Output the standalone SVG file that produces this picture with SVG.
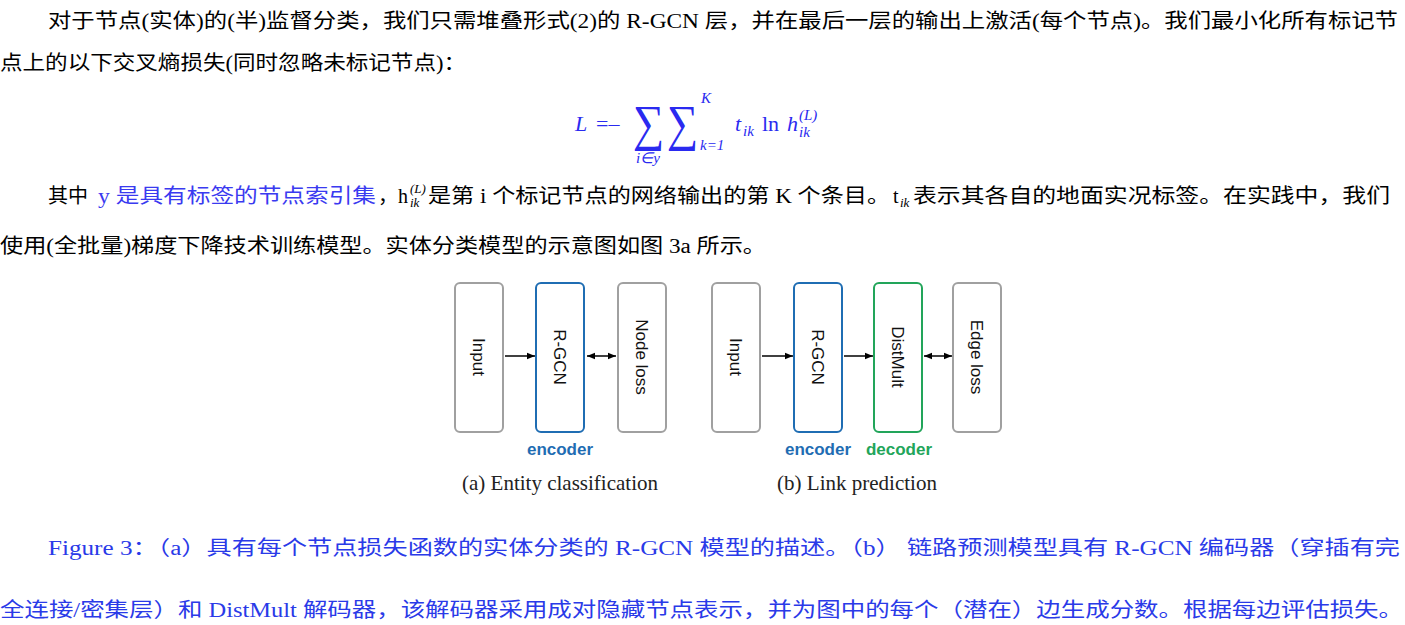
<svg xmlns="http://www.w3.org/2000/svg" width="1405" height="625" viewBox="0 0 1405 625">
<defs>
<marker id="ah" viewBox="0 0 10 10" refX="10" refY="5" markerWidth="8" markerHeight="8" orient="auto-start-reverse" markerUnits="userSpaceOnUse"><path d="M0,1 L10,5 L0,9 z" fill="#000"/></marker>
</defs>
<style>
.t{font-family:"Liberation Serif","Noto Sans CJK SC",serif;font-size:20px;fill:#000}
.b{fill:#3a3af0}
.m{font-family:"Liberation Serif",serif;font-style:italic;fill:#2a2af0}
.box{fill:#fff;stroke-width:2}
.g{stroke:#a0a0a0}.bl{stroke:#1f6db3}.gr{stroke:#22a55a}
.lbl{font-family:"Liberation Sans",Arial,sans-serif;font-size:17px;fill:#111}
.enc{font-family:"Liberation Sans",Arial,sans-serif;font-size:17px;font-weight:bold}
.cap{font-family:"Liberation Serif",serif;font-size:21px;fill:#222}
.c{fill:#2a3ae8}
</style>
<rect width="1405" height="625" fill="#fff"/>
<text class="t" x="48" y="28" textLength="1350" lengthAdjust="spacingAndGlyphs">对于节点(实体)的(半)监督分类，我们只需堆叠形式(2)的 R-GCN 层，并在最后一层的输出上激活(每个节点)。我们最小化所有标记节</text>
<text class="t" x="0" y="70" textLength="466" lengthAdjust="spacingAndGlyphs">点上的以下交叉熵损失(同时忽略未标记节点)：</text>
<g class="m">
<text x="575" y="131" font-size="22">L</text>
<text x="596" y="131" font-size="22" font-style="normal">=–</text>
<text x="633" y="140" font-size="44" font-style="normal" transform="translate(633,140) scale(1,1.15) translate(-633,-140)">∑</text>
<text x="636" y="163" font-size="15">i∈y</text>
<text x="667" y="140" font-size="44" font-style="normal" transform="translate(667,140) scale(1,1.15) translate(-667,-140)">∑</text>
<text x="701" y="103" font-size="15">K</text>
<text x="700" y="150" font-size="15">k=1</text>
<text x="735" y="131" font-size="22">t</text>
<text x="743" y="136" font-size="15">ik</text>
<text x="762" y="131" font-size="22" font-style="normal">ln</text>
<text x="787" y="131" font-size="22">h</text>
<text x="799" y="120" font-size="15">(L)</text>
<text x="799" y="137" font-size="15">ik</text>
</g>
<text class="t" x="48" y="203">其中 </text>
<text class="t b" x="98" y="203" textLength="278" lengthAdjust="spacingAndGlyphs">y 是具有标签的节点索引集</text>
<text class="t" x="378" y="203">，h</text>
<text x="410" y="193" font-family="Liberation Serif" font-style="italic" font-size="13">(L)</text>
<text x="410" y="207" font-family="Liberation Serif" font-style="italic" font-size="13">ik</text>
<text class="t" x="428" y="203" textLength="462" lengthAdjust="spacingAndGlyphs">是第 i 个标记节点的网络输出的第 K 个条目。</text>
<text class="t" x="893" y="203">t</text>
<text x="900" y="207" font-family="Liberation Serif" font-style="italic" font-size="13">ik</text>
<text class="t" x="913" y="203" textLength="477" lengthAdjust="spacingAndGlyphs">表示其各自的地面实况标签。在实践中，我们</text>
<text class="t" x="0" y="253" textLength="766" lengthAdjust="spacingAndGlyphs">使用(全批量)梯度下降技术训练模型。实体分类模型的示意图如图 3a 所示。</text>

<g id="a-input"><rect class="box g" x="455" y="283" width="48" height="149" rx="5"/><text class="lbl" transform="translate(473,357) rotate(90)" text-anchor="middle">Input</text></g>
<g id="a-rgcn"><rect class="box bl" x="536" y="283" width="48" height="149" rx="5"/><text class="lbl" transform="translate(554,357) rotate(90)" text-anchor="middle">R-GCN</text></g>
<g id="a-loss"><rect class="box g" x="618" y="283" width="48" height="149" rx="5"/><text class="lbl" transform="translate(636,357) rotate(90)" text-anchor="middle">Node loss</text></g>
<g id="b-input"><rect class="box g" x="712" y="283" width="48" height="149" rx="5"/><text class="lbl" transform="translate(730,357) rotate(90)" text-anchor="middle">Input</text></g>
<g id="b-rgcn"><rect class="box bl" x="794" y="283" width="48" height="149" rx="5"/><text class="lbl" transform="translate(812,357) rotate(90)" text-anchor="middle">R-GCN</text></g>
<g id="b-dist"><rect class="box gr" x="874" y="283" width="48" height="149" rx="5"/><text class="lbl" transform="translate(892,357) rotate(90)" text-anchor="middle">DistMult</text></g>
<g id="b-loss"><rect class="box g" x="953" y="283" width="48" height="149" rx="5"/><text class="lbl" transform="translate(971,357) rotate(90)" text-anchor="middle">Edge loss</text></g>

<g id="connectors" stroke="#000" stroke-width="1.5" fill="none">
<line x1="505" y1="356" x2="535" y2="356" marker-end="url(#ah)"/>
<line x1="587" y1="356" x2="616" y2="356" marker-start="url(#ah)" marker-end="url(#ah)"/>
<line x1="762" y1="356" x2="793" y2="356" marker-end="url(#ah)"/>
<line x1="844" y1="356" x2="873" y2="356" marker-end="url(#ah)"/>
<line x1="924" y1="356" x2="952" y2="356" marker-start="url(#ah)" marker-end="url(#ah)"/>
</g>
<text class="enc" x="560" y="455" text-anchor="middle" fill="#1f6db3">encoder</text>
<text class="enc" x="818" y="455" text-anchor="middle" fill="#1f6db3">encoder</text>
<text class="enc" x="899" y="455" text-anchor="middle" fill="#22a55a">decoder</text>
<text class="cap" x="560" y="490" text-anchor="middle">(a) Entity classification</text>
<text class="cap" x="857" y="490" text-anchor="middle">(b) Link prediction</text>

<text class="t c" x="48" y="555" textLength="1352" lengthAdjust="spacingAndGlyphs">Figure 3：（a）具有每个节点损失函数的实体分类的 R-GCN 模型的描述。（b） 链路预测模型具有 R-GCN 编码器（穿插有完</text>
<text class="t c" x="0" y="617" textLength="1403" lengthAdjust="spacingAndGlyphs">全连接/密集层）和 DistMult 解码器，该解码器采用成对隐藏节点表示，并为图中的每个（潜在）边生成分数。根据每边评估损失。</text>
</svg>
